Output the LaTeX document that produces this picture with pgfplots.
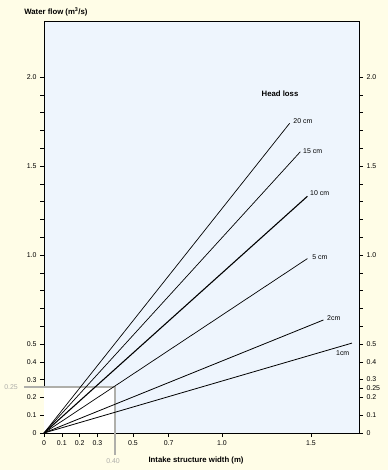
\documentclass[border=0pt]{standalone}
\usepackage{fontspec}
\setmainfont{Liberation Sans}
\usepackage{pgfplots}
\pgfplotsset{compat=1.18}
\definecolor{pagebg}{HTML}{FFFDE7}
\definecolor{plotbg}{HTML}{EEF5FD}
\definecolor{guide}{HTML}{AFAFAA}

\pgfplotsset{
  chart/.style={
    x=178bp, y=178bp,
    xmin=0, xmax=1.7697, ymin=0, ymax=2.3146,
    clip=false,
    tick align=outside,
    major tick length=4bp, minor tick length=3.5bp,
    every tick/.style={black, line width=0.5bp},
    axis line style={line width=0.9bp},
    tick label style={font=\fontsize{7}{8}\selectfont},
    /pgf/number format/assume math mode=true,
  }
}

\begin{document}
\begin{tikzpicture}
\fill[pagebg] (-44bp,-37bp) rectangle (344bp,433bp);
\begin{axis}[
  chart,
  axis background/.style={fill=plotbg},
  xtick pos=bottom, ytick pos=left,
  xtick={0,0.1,0.2,0.3,0.5,0.7,1,1.5},
  xticklabels={0,0.1,0.2,0.3,0.5,0.7,1.0,1.5},
  ytick={0,0.1,0.2,0.3,0.4,0.5,1,1.5,2},
  yticklabels={0,0.1,0.2,0.3,0.4,0.5,1.0,1.5,2.0},
  minor ytick={0.6,0.7,0.8,0.9,1.1,1.2,1.3,1.4,1.6,1.7,1.8,1.9},
  xticklabel style={yshift=0bp},
]
% white patch inside the guide rectangle
\addplot[draw=none, fill=white] coordinates {(0,0) (0.40,0) (0.40,0.26) (0,0.26)} -- cycle;
% grey guide lines
\addplot[guide, line width=2.2bp] coordinates {(-0.11,0.26) (0.40,0.26) (0.40,-0.124)};
% head loss lines
\addplot[black, line width=0.7bp] coordinates {(0,0) (1.38,1.74)};
\addplot[black, line width=0.7bp] coordinates {(0,0) (1.44,1.58)};
\addplot[black, line width=1.1bp] coordinates {(0,0) (1.48,1.33)};
\addplot[black, line width=0.7bp] coordinates {(0,0) (1.48,0.98)};
\addplot[black, line width=0.8bp] coordinates {(0,0) (1.57,0.635)};
\addplot[black, line width=0.8bp] coordinates {(0,0) (1.73,0.505)};
% labels
\begin{scope}[every node/.style={font=\fontsize{7}{8}\selectfont, anchor=west, inner sep=0pt}]
\node at (axis cs:1.400,1.753) {20 cm};
\node at (axis cs:1.455,1.584) {15 cm};
\node at (axis cs:1.494,1.348) {10 cm};
\node at (axis cs:1.506,0.989) {5 cm};
\node at (axis cs:1.590,0.646) {2cm};
\node at (axis cs:1.640,0.449) {1cm};
\end{scope}
\node[font=\bfseries\fontsize{7.8}{9}\selectfont] at (axis cs:1.326,1.904) {Head loss};
\node[font=\bfseries\fontsize{7.8}{9}\selectfont] at (axis cs:0.067,2.365) {Water flow (m\textsuperscript{3}/s)};
\node[font=\bfseries\fontsize{7.8}{9}\selectfont] at (axis cs:0.854,-0.157) {Intake structure width (m)};
\node[guide, font=\fontsize{7}{8}\selectfont] at (axis cs:-0.185,0.258) {0.25};
\node[guide, font=\fontsize{7}{8}\selectfont] at (axis cs:0.388,-0.157) {0.40};
\end{axis}
\begin{axis}[
  chart,
  axis x line=none,
  axis y line*=right,
  ytick={0,0.1,0.2,0.25,0.3,0.4,0.5,1,1.5,2},
  yticklabels={0,0.1,0.2,0.25,0.3,0.4,0.5,1.0,1.5,2.0},
  minor ytick={0.6,0.7,0.8,0.9,1.1,1.2,1.3,1.4,1.6,1.7,1.8,1.9},
  y axis line style={line width=0.7bp},
]
\end{axis}
\pgfresetboundingbox
\path[use as bounding box] (-44bp,-37bp) rectangle (344bp,433bp);
\end{tikzpicture}
\end{document}
